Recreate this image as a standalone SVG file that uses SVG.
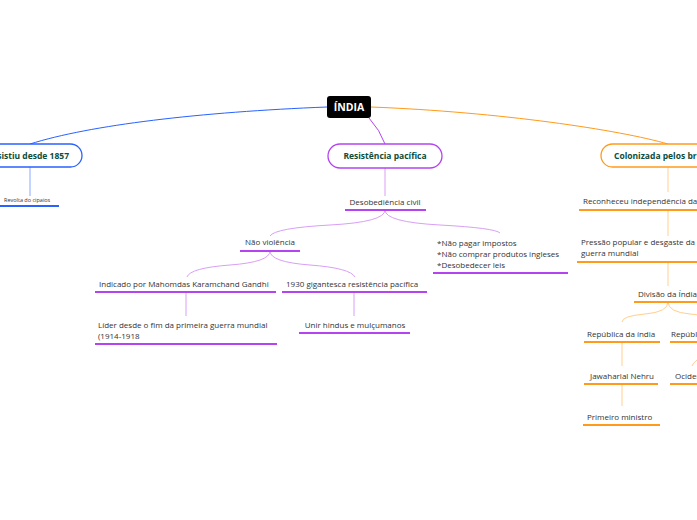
<svg xmlns="http://www.w3.org/2000/svg" width="697" height="520" viewBox="0 0 697 520">
<style>
text{font-family:"Open Sans","Noto Sans",sans-serif;font-size:8px;fill:#333}
.m{font-size:8.5px;font-weight:bold;fill:#0d4d3a}
.b{stroke:#2962ff}.p{stroke:#b344f0}.o{stroke:#ff9a1a}
.lb{stroke:#8aa8ff}.lp{stroke:#d8a0f5}.lo{stroke:#ffcf8f}
.u{stroke-width:2;fill:none}.c{fill:none;stroke-width:1}
</style>
<rect width="697" height="520" fill="#fff"/>
<g id="connectors">
<path class="c b" stroke-width="1.8" d="M327,107 C200,112 90,125 30,144"/>
<path class="c p" d="M369,118 Q380,130 385,144"/>
<path class="c o" stroke-width="1.8" d="M371,107 C500,112 620,130 668,144"/>
<path class="c lb" d="M30,167 V196"/>
<path class="c lp" d="M385,168 V196"/>
<path class="c lp" d="M385,210 Q385,222 330,225 T270,236 M385,210 Q385,222 440,225 T500,233"/>
<path class="c lp" d="M270,251 Q270,262 230,265 T187,277 M270,251 Q270,262 310,265 T355,277"/>
<path class="c lp" d="M186,292 V316 M354,292 V316"/>
<path class="c lo" d="M668,167 V192 M668,210 V236 M668,262 V286"/>
<path class="c lo" d="M668,302 Q668,312 645,314 T622,322 M668,302 Q668,312 690,314 T700,320"/>
<path class="c lo" d="M622,342 V366 M622,384 V406 M697,360 Q693,363 692,366"/>
</g>
<g id="india"><rect x="327" y="96" width="44" height="22" rx="3" fill="#000"/><text x="349" y="111" text-anchor="middle" style="fill:#fff;font-weight:bold;font-size:10.5px">ÍNDIA</text></g>
<g id="resistiu"><rect x="-40" y="144" width="122" height="23" rx="11.5" fill="#fff" stroke="#2962ff" stroke-width="1.3"/><text class="m" x="69" y="159" text-anchor="end">Resistiu desde 1857</text></g>
<g id="revolta"><text x="4" y="202" style="font-size:5.5px">Revolta do cipaios</text><line class="u b" x1="0" y1="206" x2="59" y2="206"/></g>
<g id="resistencia"><rect x="328" y="144" width="114" height="24" rx="12" fill="#fff" stroke="#b344f0" stroke-width="1.3"/><text class="m" x="385" y="159" text-anchor="middle">Resistência pacífica</text></g>
<g id="desob"><text x="385" y="205" text-anchor="middle">Desobediência civil</text><line class="u p" x1="345" y1="210" x2="426" y2="210"/></g>
<g id="naoviol"><text x="270" y="245" text-anchor="middle">Não violência</text><line class="u p" x1="240" y1="251" x2="300" y2="251"/></g>
<g id="bullets"><text x="437" y="246">*Não pagar impostos</text><text x="437" y="257">*Não comprar produtos ingleses</text><text x="437" y="268">*Desobedecer leis</text><line class="u p" x1="433" y1="273" x2="568" y2="273"/></g>
<g id="gandhi"><text x="99" y="287">Indicado por Mahomdas Karamchand Gandhi</text><line class="u p" x1="95" y1="292" x2="276" y2="292"/></g>
<g id="g1930"><text x="286" y="287">1930 gigantesca resistência pacífica</text><line class="u p" x1="282" y1="292" x2="427" y2="292"/></g>
<g id="lider"><text x="98" y="328">Líder  desde o fim da primeira guerra mundial</text><text x="98" y="339">(1914-1918</text><line class="u p" x1="95" y1="344" x2="277" y2="344"/></g>
<g id="unir"><text x="355" y="328" text-anchor="middle">Unir hindus e mulçumanos</text><line class="u p" x1="299" y1="333" x2="410" y2="333"/></g>
<g id="colonizada"><rect x="601" y="144" width="140" height="23" rx="11.5" fill="#fff" stroke="#ff9a1a" stroke-width="1.3"/><text class="m" x="614" y="159">Colonizada pelos britânicos</text></g>
<g id="reconheceu"><text x="583" y="204">Reconheceu independência da Índia</text><line class="u o" x1="579" y1="210" x2="697" y2="210"/></g>
<g id="pressao"><text x="581" y="245">Pressão popular e desgaste da segunda</text><text x="581" y="256">guerra mundial</text><line class="u o" x1="577" y1="262" x2="697" y2="262"/></g>
<g id="divisao"><text x="638" y="297">Divisão da Índia</text><line class="u o" x1="634" y1="302" x2="697" y2="302"/></g>
<g id="repindia"><text x="587" y="337">República da índia</text><line class="u o" x1="584" y1="342" x2="660" y2="342"/></g>
<g id="reppaq"><text x="671" y="337">República</text><line class="u o" x1="670" y1="342" x2="697" y2="342"/></g>
<g id="nehru"><text x="590" y="379">Jawaharlal Nehru</text><line class="u o" x1="584" y1="384" x2="658" y2="384"/></g>
<g id="ocidental"><text x="675" y="379">Ocidental</text><line class="u o" x1="670" y1="384" x2="697" y2="384"/></g>
<g id="primeiro"><text x="587" y="420">Primeiro ministro</text><line class="u o" x1="583" y1="425" x2="660" y2="425"/></g>
</svg>
